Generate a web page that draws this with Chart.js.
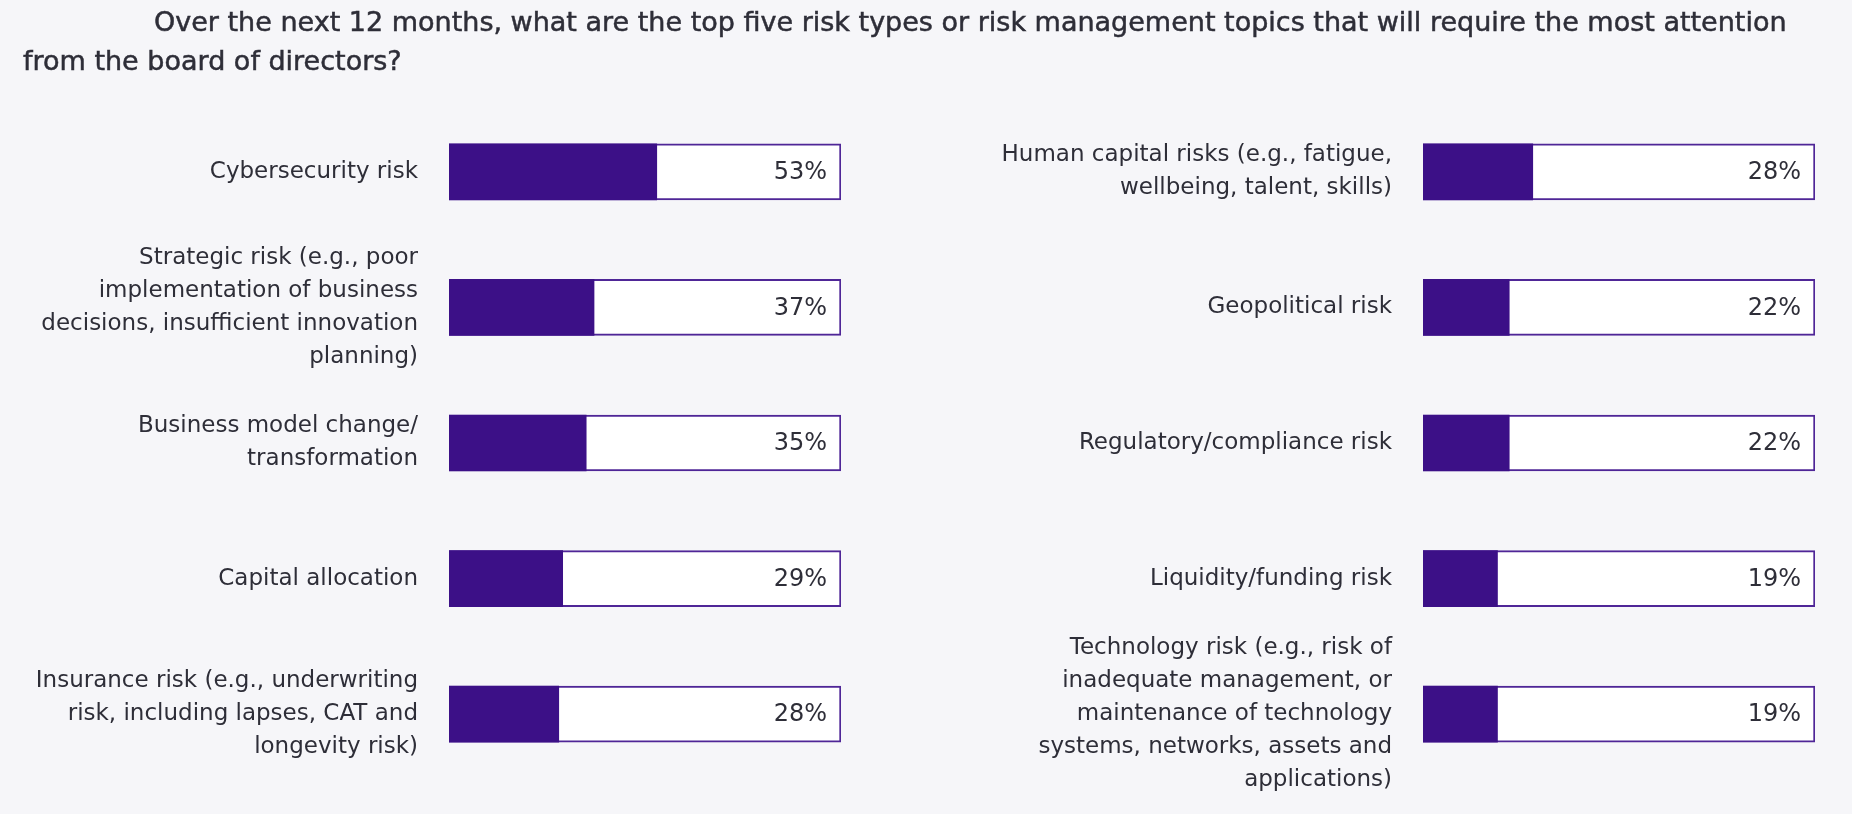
<!DOCTYPE html>
<html>
<head>
<meta charset="utf-8">
<title>Top five risk types for the board</title>
<script src="https://cdn.jsdelivr.net/npm/chart.js@4.4.1/dist/chart.umd.min.js"></script>
<style>
	html, body { margin: 0; padding: 0; background: #f6f6f9; }
	body { width: 1852px; height: 814px; position: relative; overflow: hidden; font-family: "DejaVu Sans", "Open Sans", sans-serif; color: #2e2e38; }
	#title { position: absolute; left: 23px; top: 2px; width: 1820px; font-size: 27px; line-height: 39px; font-weight: 400; -webkit-text-stroke: 0.5px #2e2e38; text-indent: 131px; z-index: 2; white-space: nowrap; }
	.panel { position: absolute; top: 0; width: 926px; height: 814px; }
	#leftPanel { left: 0; }
	#rightPanel { left: 926px; }
</style>
</head>
<body>
<div id="title">Over the next 12 months, what are the top five risk types or risk management topics that will require the most attention<br>from the board of directors?</div>
<div class="panel" id="leftPanel"><canvas id="leftChart"></canvas></div>
<div class="panel" id="rightPanel"><canvas id="rightChart"></canvas></div>

<script>
// Left column, top to bottom
var leftLabels = [
	"Cybersecurity risk",
	["Strategic risk (e.g., poor", "implementation of business", "decisions, insufficient innovation", "planning)"],
	["Business model change/", "transformation"],
	"Capital allocation",
	["Insurance risk (e.g., underwriting", "risk, including lapses, CAT and", "longevity risk)"]
];
var leftValues = [53, 37, 35, 29, 28];

// Right column, top to bottom
var rightLabels = [
	["Human capital risks (e.g., fatigue,", "wellbeing, talent, skills)"],
	"Geopolitical risk",
	"Regulatory/compliance risk",
	"Liquidity/funding risk",
	["Technology risk (e.g., risk of", "inadequate management, or", "maintenance of technology", "systems, networks, assets and", "applications)"]
];
var rightValues = [28, 22, 22, 19, 19];

// every bar sits in a full 0-100% frame
var frameValues = [100, 100, 100, 100, 100];

var textColor = "#2e2e38";
var barColor = "#3c1087";
var frameColor = "#4f2697";
var fontFamily = "'DejaVu Sans', 'Open Sans', sans-serif";

//write the percentage inside the right end of each frame
var percentPlugin = {
	id: "percentLabels",
	afterDatasetsDraw: function (chart) {
		var ctx = chart.ctx;
		var frame = chart.getDatasetMeta(1);
		var values = chart.data.datasets[0].data;
		ctx.save();
		ctx.font = "400 24px " + fontFamily;
		ctx.fillStyle = textColor;
		ctx.textAlign = "right";
		ctx.textBaseline = "middle";
		frame.data.forEach(function (bar, i) {
			ctx.fillText(values[i] + "%", bar.x - 14, bar.y + 1);
		});
		ctx.restore();
	}
};

function buildPanel(canvasId, labels, values, axisWidth, padRight) {
	return new Chart(canvasId, {
		type: "bar",
		data: {
			labels: labels,
			datasets: [{
				data: values,
				backgroundColor: barColor,
				borderWidth: 0,
				order: 0
			}, {
				data: frameValues,
				backgroundColor: "#ffffff",
				borderColor: frameColor,
				borderWidth: 2,
				borderSkipped: false,
				order: 1
			}]
		},
		options: {
			indexAxis: "y",
			responsive: true,
			maintainAspectRatio: false,
			animation: false,
			events: [],
			datasets: { bar: { grouped: false, barThickness: 56 } },
			layout: { padding: { top: 104, bottom: 32, left: 0, right: padRight } },
			plugins: { legend: { display: false }, tooltip: { enabled: false } },
			scales: {
				x: { display: false, min: 0, max: 100 },
				y: {
					grid: { display: false, drawTicks: false },
					border: { display: false },
					ticks: {
						autoSkip: false,
						padding: 31,
						color: textColor,
						font: { family: fontFamily, size: 23, lineHeight: "33px" }
					},
					afterFit: function (scale) {
						// keep the bars at a fixed left edge and stop tall labels squeezing the rows
						scale.width = axisWidth;
						scale.paddingTop = 0;
						scale.paddingBottom = 0;
					}
				}
			}
		},
		plugins: [percentPlugin]
	});
}

buildPanel("leftChart", leftLabels, leftValues, 449, 85);
buildPanel("rightChart", rightLabels, rightValues, 497, 37);
</script>
</body>
</html>
